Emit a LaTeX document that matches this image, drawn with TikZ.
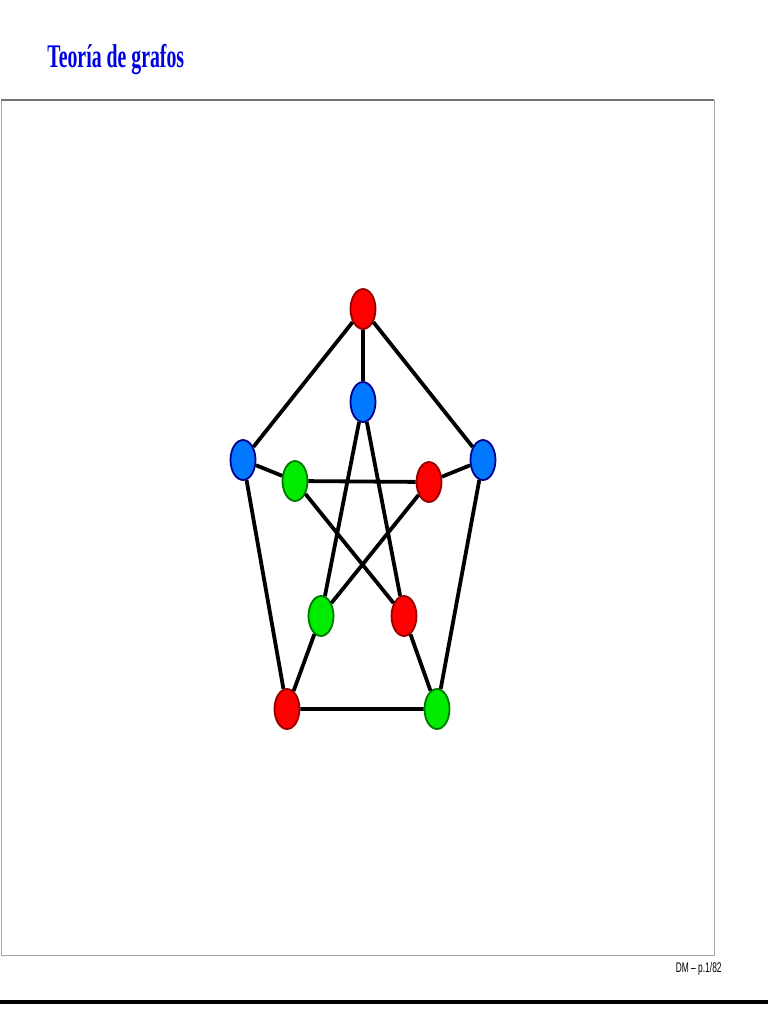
\documentclass[tikz,border=0pt]{standalone}
\usepackage{fontspec}
\setmainfont{Liberation Serif}
\newfontfamily\footfont{Liberation Sans}
\usetikzlibrary{shapes.geometric}
\definecolor{titleblue}{RGB}{0,0,230}
\definecolor{vred}{RGB}{255,0,0}
\definecolor{vredb}{RGB}{150,0,0}
\definecolor{vblue}{RGB}{0,120,255}
\definecolor{vblueb}{RGB}{0,0,140}
\definecolor{vgreen}{RGB}{0,235,0}
\definecolor{vgreenb}{RGB}{0,120,0}
\tikzset{
  vtx/.style={ellipse, draw, line width=0.9pt, minimum width=12.5pt, minimum height=20pt, inner sep=0pt},
  rv/.style={vtx, fill=vred, draw=vredb},
  bv/.style={vtx, fill=vblue, draw=vblueb},
  gv/.style={vtx, fill=vgreen, draw=vgreenb},
  edge/.style={line width=1.9pt, black},
}
\begin{document}
\begin{tikzpicture}[x=0.5pt,y=-0.5pt]
\useasboundingbox (0,0) rectangle (768,1024);
% title
\node[anchor=base west, text=titleblue, inner sep=0pt] (title) at (47,67) {\scalebox{0.6}[1]{\fontsize{16.5}{16.5}\selectfont\bfseries Teoría de grafos}};
% frame
\draw[gray!70, line width=0.5pt] (1,100) rectangle (714,955);
\draw[gray!90!black, line width=1pt] (1,100) -- (714,100);
% footer
\node[anchor=base east, inner sep=0pt] (foot) at (722,972) {\scalebox{0.6}[1]{\footfont\fontsize{7}{7}\selectfont DM – p.1/82}};
\draw[black, line width=1.6pt] (0,1002) -- (768,1002);
% vertices
\node[rv] (T) at (363,309) {};
\node[bv] (IT) at (363,402) {};
\node[bv] (L) at (243,460) {};
\node[bv] (R) at (483,460) {};
\node[gv] (IL) at (295,481) {};
\node[rv] (IR) at (429,482) {};
\node[gv] (IBL) at (321,616) {};
\node[rv] (IBR) at (404,616) {};
\node[rv] (BL) at (287,709) {};
\node[gv] (BR) at (437,709) {};
% edges
\draw[edge] (T) -- (L) (T) -- (R) (L) -- (BL) (R) -- (BR) (BL) -- (BR);
\draw[edge] (T) -- (IT) (L) -- (IL) (R) -- (IR) (BL) -- (IBL) (BR) -- (IBR);
\draw[edge] (IT) -- (IBL) (IT) -- (IBR) (IL) -- (IR) (IL) -- (IBR) (IR) -- (IBL);
\end{tikzpicture}
\end{document}
